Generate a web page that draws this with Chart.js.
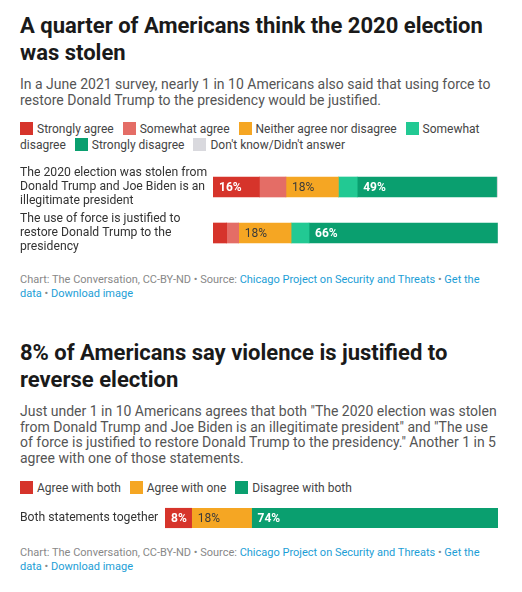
<!DOCTYPE html>
<html>
<head>
<meta charset="utf-8">
<script src="https://cdn.jsdelivr.net/npm/chart.js@4/dist/chart.umd.min.js"></script>
<style>
  body { margin: 0; background: #fff; font-family: Roboto, sans-serif; }
  .blk { position: absolute; left: 20px; width: 482px; }
  .title { font-weight: 700; font-size: 22px; line-height: 27px; color: #1a1a1a; }
  .desc { font-size: 14px; line-height: 15.6px; color: #555; }
  .legend { font-size: 12px; line-height: 16px; color: #444; }
  .legend .sw { display: inline-block; width: 13px; height: 13px; vertical-align: -2px; margin-right: 4px; }
  .legend .item { margin-right: 6px; }
  .foot { font-size: 11px; line-height: 14px; color: #888; }
  .foot a { color: #1c9ed6; text-decoration: none; }
  .box { position: absolute; left: 20px; width: 478px; }
</style>
</head>
<body>
<div class="blk title" style="top:12px">A quarter of Americans think the 2020 election was stolen</div>
<div class="blk desc" style="top:77px">In a June 2021 survey, nearly 1 in 10 Americans also said that using force to restore Donald Trump to the presidency would be justified.</div>
<div class="blk legend" id="legend1" style="top:121px"></div>
<div class="box" style="top:150px;height:120px"><canvas id="chart1"></canvas></div>
<div class="blk foot" style="top:273px">Chart: The Conversation, CC-BY-ND • Source: <a>Chicago Project on Security and Threats</a> • <a>Get the data</a> • <a>Download image</a></div>

<div class="blk title" style="top:339px">8% of Americans say violence is justified to reverse election</div>
<div class="blk desc" style="top:404px">Just under 1 in 10 Americans agrees that both "The 2020 election was stolen from Donald Trump and Joe Biden is an illegitimate president" and "The use of force is justified to restore Donald Trump to the presidency." Another 1 in 5 agree with one of those statements.</div>
<div class="blk legend" id="legend2" style="top:480px"></div>
<div class="box" style="top:500px;height:36px"><canvas id="chart2"></canvas></div>
<div class="blk foot" style="top:546px">Chart: The Conversation, CC-BY-ND • Source: <a>Chicago Project on Security and Threats</a> • <a>Get the data</a> • <a>Download image</a></div>

<script>
// First chart: agreement with each statement (percent)
var statements = [
  ['The 2020 election was stolen from', 'Donald Trump and Joe Biden is an', 'illegitimate president'],
  ['The use of force is justified to', 'restore Donald Trump to the', 'presidency']
];
var responses = ['Strongly agree', 'Somewhat agree', 'Neither agree nor disagree', 'Somewhat disagree', 'Strongly disagree', "Don't know/Didn't answer"];
var stronglyAgree = [16.3, 4.8];
var somewhatAgree = [9.3, 4.2];
var neitherAgree = [18.4, 18.4];
var somewhatDisagree = [6.6, 6.3];
var stronglyDisagree = [48.9, 66.1];
var dontKnow = [0.5, 0.2];

// Second chart: both statements combined (percent)
var combined = ['Both statements together'];
var groups = ['Agree with both', 'Agree with one', 'Disagree with both'];
var agreeBoth = [8];
var agreeOne = [18];
var disagreeBoth = [74];

var colors1 = ['#d6342b', '#e46d66', '#f5a623', '#22c993', '#0a9f6f', '#d9d9de'];
var colors2 = ['#d6342b', '#f5a623', '#0a9f6f'];

// Build the HTML legends
var buildLegend = (id, names, colors) => {
  var html = '';
  names.forEach((name, i) => {
    html += '<span class="item"><span class="sw" style="background:' + colors[i] + '"></span>' + name + '</span> ';
  });
  document.getElementById(id).innerHTML = html;
};
buildLegend('legend1', responses, colors1);
buildLegend('legend2', groups, colors2);

// Draws the percentage inside each big enough segment
var valueLabels = {
  id: 'valueLabels',
  afterDatasetsDraw(chart, args, opts) {
    var ctx = chart.ctx;
    chart.data.datasets.forEach((ds, i) => {
      if (!ds.showLabel) return;
      chart.getDatasetMeta(i).data.forEach((bar, j) => {
        var v = ds.data[j];
        if (v < opts.min) return;
        ctx.save();
        ctx.font = (ds.darkLabel ? '400' : '700') + ' 12px Roboto';
        ctx.fillStyle = ds.darkLabel ? '#3a3a3a' : '#fff';
        ctx.textAlign = 'left';
        ctx.textBaseline = 'middle';
        ctx.fillText(Math.round(v) + '%', Math.min(bar.base, bar.x) + 6, bar.y + 0.5);
        ctx.restore();
      });
    });
  }
};

var makeOptions = (axisWidth, minLabel, pad) => ({
  indexAxis: 'y',
  responsive: true,
  maintainAspectRatio: false,
  animation: false,
  events: [],
  layout: { padding: { top: pad, bottom: pad } },
  plugins: {
    legend: { display: false },
    tooltip: { enabled: false },
    valueLabels: { min: minLabel }
  },
  scales: {
    x: { stacked: true, min: 0, max: 100, display: false },
    y: {
      stacked: true,
      grid: { display: false },
      border: { display: false },
      ticks: {
        crossAlign: 'far',
        color: '#333',
        font: { family: 'Roboto', size: 12.2, lineHeight: 1.15 }
      },
      afterFit: scale => {
        scale.width = axisWidth;
        scale.paddingTop = 0;
        scale.paddingBottom = 0;
      }
    }
  }
});

var series1 = [stronglyAgree, somewhatAgree, neitherAgree, somewhatDisagree, stronglyDisagree, dontKnow];
new Chart(document.getElementById('chart1'), {
  type: 'bar',
  data: {
    labels: statements,
    datasets: series1.map((data, i) => ({
      label: responses[i],
      data: data,
      backgroundColor: colors1[i],
      barThickness: 20,
      showLabel: i == 0 || i == 2 || i == 4,
      darkLabel: i == 2
    }))
  },
  options: makeOptions(193, 10, 14),
  plugins: [valueLabels]
});

var series2 = [agreeBoth, agreeOne, disagreeBoth];
new Chart(document.getElementById('chart2'), {
  type: 'bar',
  data: {
    labels: combined,
    datasets: series2.map((data, i) => ({
      label: groups[i],
      data: data,
      backgroundColor: colors2[i],
      barThickness: 19.5,
      showLabel: true,
      darkLabel: i == 1
    }))
  },
  options: makeOptions(145, 5, 0),
  plugins: [valueLabels]
});
</script>
</body>
</html>
